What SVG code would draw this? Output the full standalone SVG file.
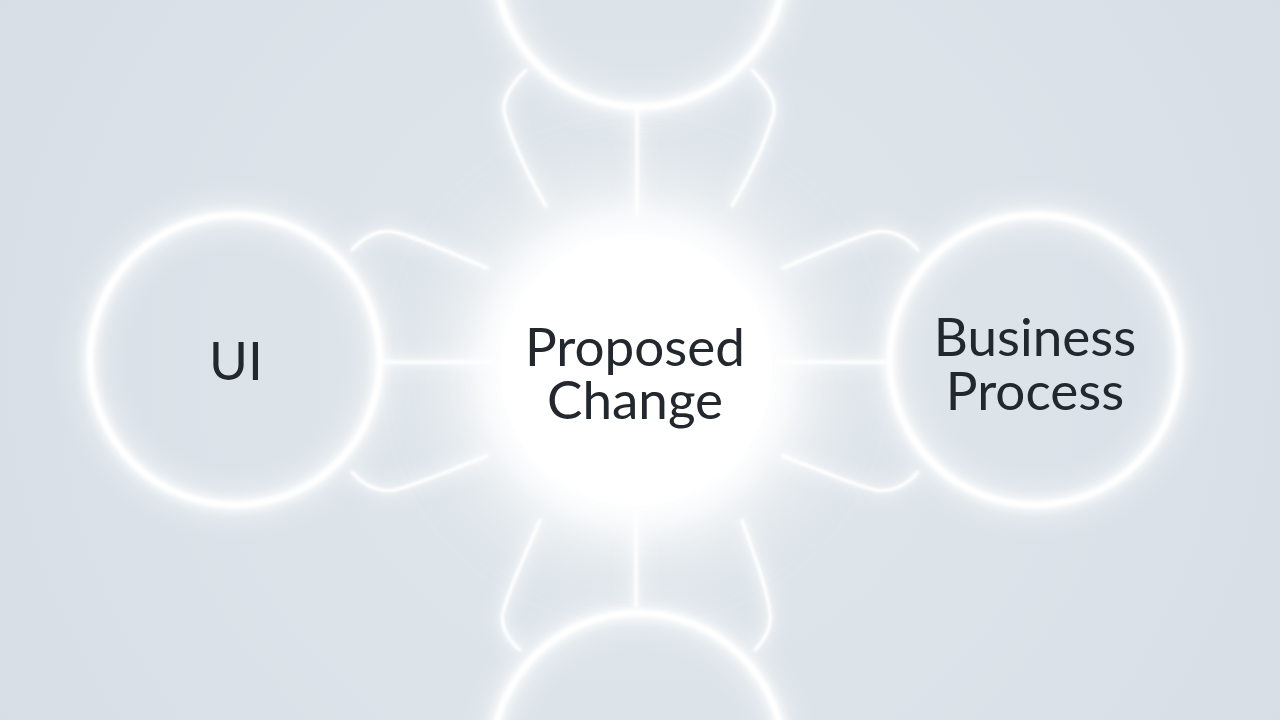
<svg xmlns="http://www.w3.org/2000/svg" width="1280" height="720" viewBox="0 0 1280 720">
  <defs>
    <radialGradient id="bgGrad" cx="640" cy="360" r="760" gradientUnits="userSpaceOnUse">
      <stop offset="0" stop-color="#e1e7ec"/>
      <stop offset="1" stop-color="#d7dfe6"/>
    </radialGradient>
    <filter id="ringGlow" filterUnits="userSpaceOnUse" x="-200" y="-200" width="1680" height="1120">
      <feGaussianBlur in="SourceGraphic" stdDeviation="16" result="b1"/>
      <feGaussianBlur in="SourceGraphic" stdDeviation="6" result="b2"/>
      <feGaussianBlur in="SourceGraphic" stdDeviation="1.5" result="b3"/>
      <feMerge>
        <feMergeNode in="b1"/>
        <feMergeNode in="b1"/>
        <feMergeNode in="b2"/>
        <feMergeNode in="b2"/>
        <feMergeNode in="b3"/>
      </feMerge>
    </filter>
    <filter id="lineGlow" filterUnits="userSpaceOnUse" x="0" y="0" width="1280" height="720">
      <feGaussianBlur in="SourceGraphic" stdDeviation="10" result="b1"/>
      <feGaussianBlur in="SourceGraphic" stdDeviation="3.5" result="b2"/>
      <feGaussianBlur in="SourceGraphic" stdDeviation="1" result="b3"/>
      <feMerge>
        <feMergeNode in="b1"/>
        <feMergeNode in="b1"/>
        <feMergeNode in="b2"/>
        <feMergeNode in="b3"/>
      </feMerge>
    </filter>
    <filter id="coreBlur" filterUnits="userSpaceOnUse" x="0" y="0" width="1280" height="720">
      <feGaussianBlur stdDeviation="18"/>
    </filter>
    <filter id="haloBlur" filterUnits="userSpaceOnUse" x="0" y="0" width="1280" height="720">
      <feGaussianBlur stdDeviation="35"/>
    </filter>
    <style>
      .ring { fill: none; stroke: #ffffff; stroke-width: 6; filter: url(#ringGlow); }
      .link { fill: none; stroke: #ffffff; stroke-width: 3; stroke-linecap: round; filter: url(#lineGlow); }
      .label { font-family: Lato, "Open Sans", "Liberation Sans", sans-serif; font-size: 53px; fill: #22282d; text-anchor: middle; }
    </style>
  </defs>

  <rect x="0" y="0" width="1280" height="720" fill="url(#bgGrad)"/>

  <g id="connectors">
    <!-- left -->
    <path class="link" d="M 352 250 C 364 236, 380 229, 395 232 C 420 238, 455 255, 487 268"/>
    <path class="link" d="M 382 362 L 492 362"/>
    <path class="link" d="M 352 472 C 364 486, 380 493, 395 490 C 420 484, 455 468, 487 456"/>
    <!-- right -->
    <path class="link" d="M 918 250 C 906 236, 890 229, 875 232 C 850 238, 815 255, 783 268"/>
    <path class="link" d="M 888 362 L 778 362"/>
    <path class="link" d="M 918 472 C 906 486, 890 493, 875 490 C 850 484, 815 468, 783 456"/>
    <!-- top -->
    <path class="link" d="M 526 70 C 512 84, 500 100, 505 116 C 512 140, 528 175, 546 206"/>
    <path class="link" d="M 637 106 L 637 215"/>
    <path class="link" d="M 752 70 C 766 84, 778 100, 773 116 C 766 140, 750 175, 732 206"/>
    <!-- bottom -->
    <path class="link" d="M 540 520 C 528 550, 512 580, 503 612 C 500 626, 508 640, 520 650"/>
    <path class="link" d="M 636 515 L 636 606"/>
    <path class="link" d="M 742 520 C 752 550, 765 580, 770 612 C 772 626, 765 640, 755 650"/>
  </g>

  <g id="node-top">
    <circle class="ring" cx="640" cy="-38" r="145"/>
  </g>

  <g id="node-bottom">
    <circle class="ring" cx="638" cy="759" r="146"/>
  </g>

  <g id="node-ui">
    <circle class="ring" cx="235" cy="360" r="145"/>
    <text class="label" x="236" y="380">UI</text>
  </g>

  <g id="node-business-process">
    <circle class="ring" cx="1035" cy="360" r="145"/>
    <text class="label" x="1035" y="356">Business<tspan x="1035" dy="54">Process</tspan></text>
  </g>

  <g id="node-proposed-change">
    <circle cx="636" cy="370" r="185" fill="#ffffff" opacity="0.65" filter="url(#haloBlur)"/>
    <circle cx="636" cy="370" r="155" fill="#ffffff" filter="url(#coreBlur)"/>
    <circle cx="636" cy="370" r="136" fill="#ffffff"/>
    <text class="label" x="635" y="366">Proposed<tspan x="635" dy="53">Change</tspan></text>
  </g>
</svg>
